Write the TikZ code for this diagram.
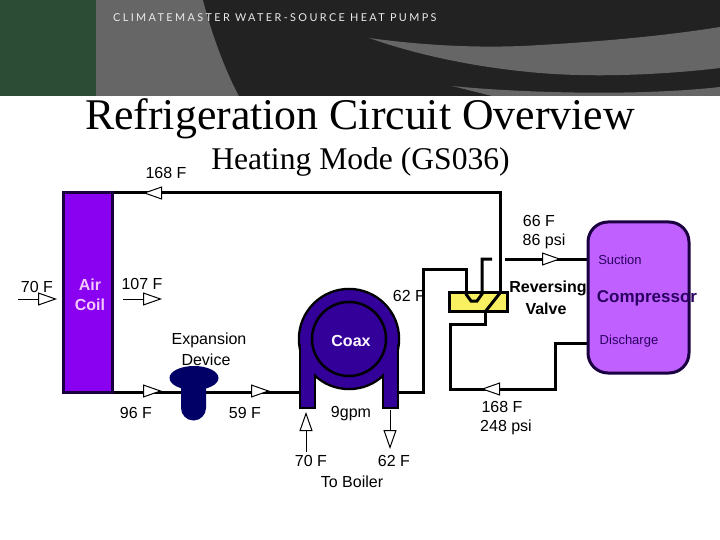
\documentclass[tikz,border=0pt]{standalone}
\usepackage{fontspec}
\setmainfont{Liberation Sans}
\newfontfamily\timesf{Liberation Serif}
\newfontfamily\hdrf[LetterSpace=22]{Lato}
\usetikzlibrary{arrows.meta,shapes.geometric}
\definecolor{hgreen}{HTML}{2D4C35}
\definecolor{hgray}{HTML}{666666}
\definecolor{hdark}{HTML}{222222}
\definecolor{coilc}{HTML}{8A00F0}
\definecolor{coaxc}{HTML}{330099}
\definecolor{navy}{HTML}{000066}
\definecolor{compc}{HTML}{C060FF}
\definecolor{edgec}{HTML}{1A0040}
\definecolor{valvec}{HTML}{F8F060}
\definecolor{pinkt}{HTML}{F3C8FF}
\definecolor{comptxt}{HTML}{2A0060}
\tikzset{
  pipe/.style={line width=3pt,line join=miter,line cap=butt},
  flow/.style={line width=1pt,-{Triangle[open,fill=white,length=19pt,width=13pt,line width=1pt]}},
  lbl/.style={font=\fontsize{16}{18}\selectfont,inner sep=0pt,text=black},
  small/.style={font=\fontsize{13}{15}\selectfont,inner sep=0pt,text=comptxt},
  shapeline/.style={line width=3pt,outer sep=0pt,inner sep=0pt},
}
\begin{document}
\begin{tikzpicture}[x=1pt,y=-1pt]
\useasboundingbox (0,0) rectangle (720,540);
% banner
\fill[hgray] (96,0) rectangle (240,96);
\fill[hgreen] (0,0) rectangle (96,96);
\fill[hdark] (203,0) .. controls (212,35) and (226,72) .. (239,96) -- (720,96) -- (720,0) -- cycle;
\fill[hgray] (369,38) .. controls (420,45) and (480,49) .. (540,45) .. controls (610,41) and (670,35) .. (720,27) -- (720,68) .. controls (670,74) and (600,78) .. (540,73) .. controls (480,68) and (420,56) .. (369,38) -- cycle;
\fill[hgray] (452,86) .. controls (510,92) and (630,97) .. (720,87) -- (720,96) -- (492,96) -- cycle;
\node[inner sep=0pt,text=white!92!black,anchor=west] (banner) at (113,18) {\hdrf\fontsize{10.85}{12}\selectfont CLIMATEMASTER WATER-SOURCE HEAT PUMPS};
% titles
\node[inner sep=0pt,anchor=base,font=\timesf\fontsize{43.8}{48}\selectfont] (title) at (360,129.5) {Refrigeration Circuit Overview};
\node[inner sep=0pt,anchor=base,font=\timesf\fontsize{31.6}{34}\selectfont] (subtitle) at (360.5,170) {Heating Mode (GS036)};
\node[lbl] (t168a) at (166,173) {168 F};
% labels under pipes
\node[lbl] (t62r) at (409,296) {62 F};
% coordinates
\coordinate (ctop) at (113,193);
\coordinate (vtop) at (500,193);
\coordinate (vin) at (500,293);
\coordinate (cbot) at (113,392);
\coordinate (coaxL) at (299,392);
\coordinate (coaxR) at (398,392);
\coordinate (r1) at (423,392);
\coordinate (r2) at (423,269);
\coordinate (r3) at (466,269);
\coordinate (r4) at (466,293);
\coordinate (u1) at (482,293);
\coordinate (u2) at (482,259);
\coordinate (u3) at (492,259);
\coordinate (s1) at (505,259);
\coordinate (s2) at (588,259);
\coordinate (d0) at (588,343);
\coordinate (d1) at (555,343);
\coordinate (d2) at (555,389);
\coordinate (d3) at (450,389);
\coordinate (d4) at (450,324);
\coordinate (d5) at (485,324);
\coordinate (d6) at (485,312);
% pipes
\draw[pipe] (ctop) -- (vtop) -- (vin);
\draw[pipe] (cbot) -- (coaxL);
\draw[pipe] (coaxR) -- (r1) -- (r2) -- (r3) -- (r4);
\draw[pipe] (s1) -- (s2);
\draw[pipe] (d0) -- (d1) -- (d2) -- (d3) -- (d4) -- (d5) -- (d6);
% air coil
\node[shapeline,draw=edgec,fill=coilc,minimum width=49pt,minimum height=199pt] (coil) at (88,292.5) {};
\node[lbl,text=pinkt,font=\bfseries\fontsize{16}{18}\selectfont] (air) at (90,285) {Air};
\node[lbl,text=pinkt,font=\bfseries\fontsize{16}{18}\selectfont] (coiltxt) at (90,305) {Coil};
% expansion device
\fill[navy] (181,382) -- (206,382) -- (206,408) arc[start angle=0,end angle=180,radius=12.5] -- cycle;
\node[ellipse,fill=navy,minimum width=49pt,minimum height=24pt,inner sep=0pt] (exp) at (194,378) {};
\node[lbl] (exp1) at (209,340) {Expansion};
\node[lbl] (exp2) at (206,360) {Device};
% coax
\draw[line width=2.5pt,fill=coaxc] (349,339) circle[radius=50];
\draw[line width=2.5pt,fill=coaxc] (300,345) rectangle (315,408);
\draw[line width=2.5pt,fill=coaxc] (383,345) rectangle (398,408);
\fill[coaxc] (349,339) circle[radius=48.7];
\fill[coaxc] (301.3,345) rectangle (313.7,406.7);
\fill[coaxc] (384.3,345) rectangle (396.7,406.7);
\node[circle,draw=black,line width=2.5pt,fill=coaxc,minimum size=74pt,inner sep=0pt] (coax) at (349,339) {};
\node[lbl,text=white!90!pinkt,font=\bfseries\fontsize{16}{18}\selectfont] (coaxtxt) at (351,341) {Coax};
% reversing valve
\node[shapeline,draw=black,fill=valvec,minimum width=58pt,minimum height=19pt] (valve) at (478,302) {};
\draw[pipe] (vin) -- (500,293) -- (485,312) -- (d6);
\draw[pipe] (r4) -- (466,294) -- (471,301) -- (477,301) -- (482,294) -- (u1) -- (u2) -- (u3);
% compressor
\node[draw=edgec,line width=3pt,fill=compc,rounded corners=20pt,minimum width=101pt,minimum height=151pt,inner sep=0pt,outer sep=0pt] (comp) at (638.5,297.5) {};
\node[lbl,font=\bfseries\fontsize{16}{18}\selectfont] (rev1) at (548,288) {Reversing};
\node[lbl,font=\bfseries\fontsize{16}{18}\selectfont] (rev2) at (546,309) {Valve};
\node[lbl,text=comptxt,font=\bfseries\fontsize{17}{18}\selectfont] (comptxt) at (647,298) {Compressor};
\node[small] (suction) at (620,260) {Suction};
\node[small] (discharge) at (629,341) {Discharge};
% flow markers
\coordinate (a1s) at (164,193); \coordinate (a1e) at (143,193);
\draw[flow] (a1s) -- (a1e);
\coordinate (a2s) at (123,299); \coordinate (a2e) at (162,299);
\draw[flow] (a2s) -- (a2e);
\coordinate (a3s) at (18,299); \coordinate (a3e) at (57,299);
\draw[flow] (a3s) -- (a3e);
\coordinate (a4s) at (142,391); \coordinate (a4e) at (162,391);
\draw[flow] (a4s) -- (a4e);
\coordinate (a5s) at (250,391); \coordinate (a5e) at (270,391);
\draw[flow] (a5s) -- (a5e);
\coordinate (a6s) at (541,259); \coordinate (a6e) at (561,259);
\draw[flow] (a6s) -- (a6e);
\coordinate (a7s) at (501,389); \coordinate (a7e) at (481,389);
\draw[flow] (a7s) -- (a7e);
\coordinate (a8s) at (306,452); \coordinate (a8e) at (306,412);
\draw[flow] (a8s) -- (a8e);
\coordinate (a9s) at (390,410); \coordinate (a9e) at (390,449);
\draw[flow] (a9s) -- (a9e);
% value labels
\node[lbl] (t70a) at (37,287) {70 F};
\node[lbl] (t107) at (142,284) {107 F};
\node[lbl] (t96) at (136,413) {96 F};
\node[lbl] (t59) at (245,413) {59 F};
\node[lbl] (t9) at (351,414) {9gpm};
\node[lbl] (t70b) at (311,461) {70 F};
\node[lbl] (t62b) at (394,461) {62 F};
\node[lbl] (boiler) at (352,482) {To Boiler};
\node[lbl] (t66) at (539,221) {66 F};
\node[lbl] (t86) at (544,241) {86 psi};
\node[lbl] (t168b) at (502,407) {168 F};
\node[lbl] (t248) at (506,427) {248 psi};
\end{tikzpicture}
\end{document}
